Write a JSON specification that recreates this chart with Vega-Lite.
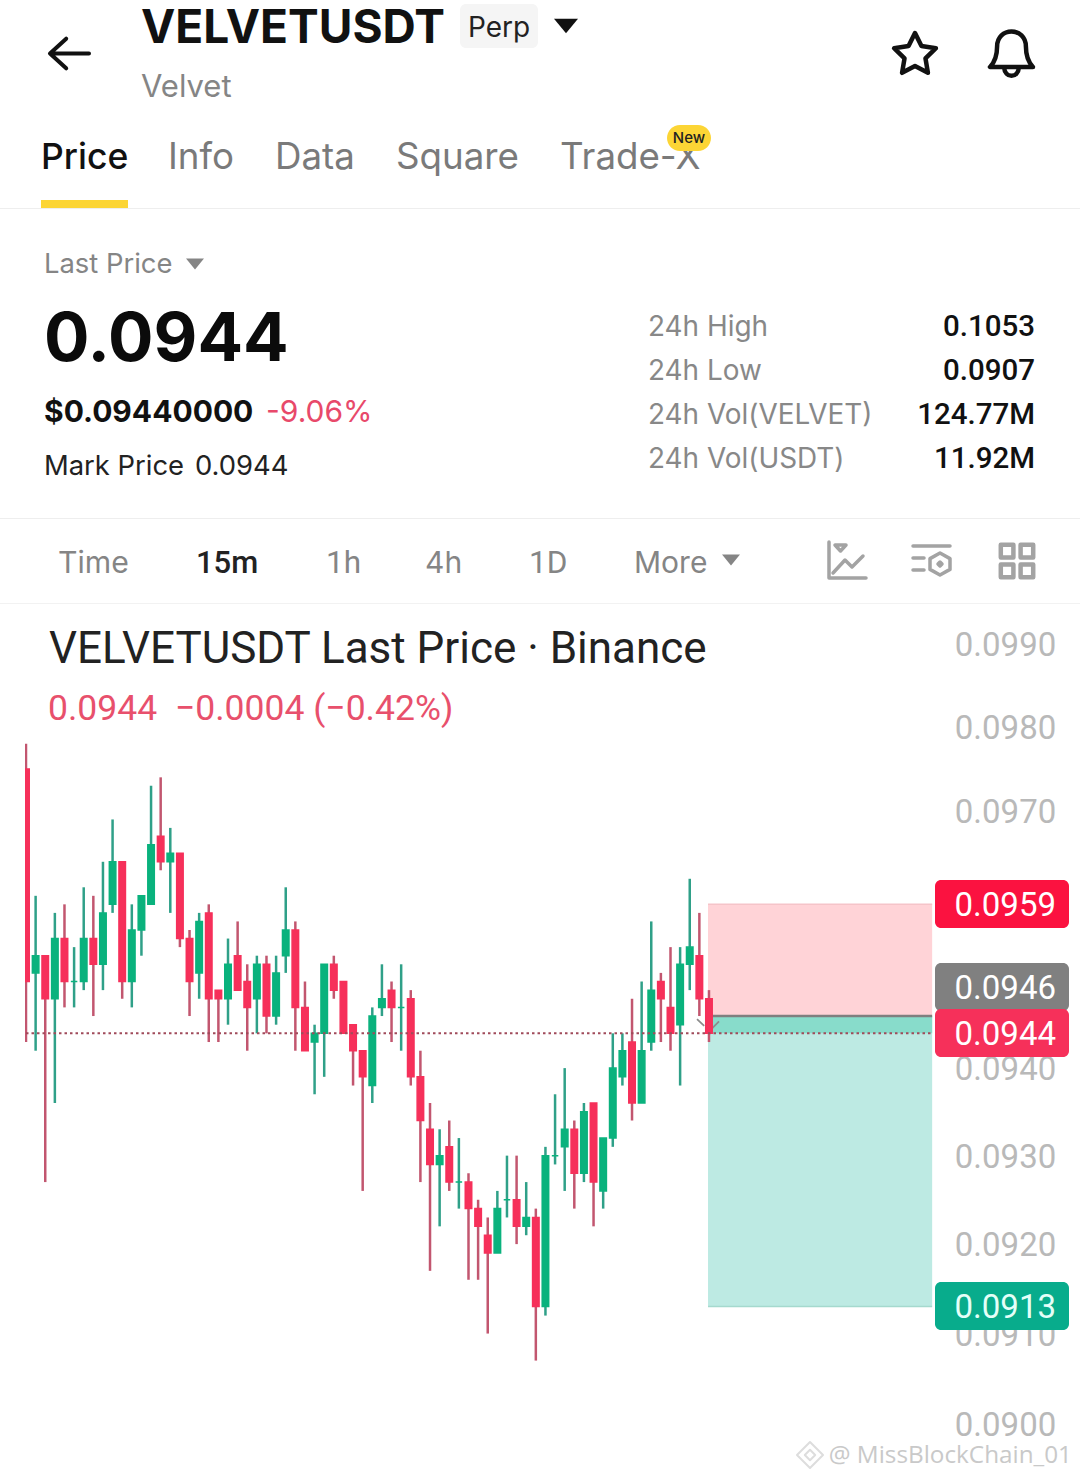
{
  "$schema": "https://vega.github.io/schema/vega-lite/v6.json",
  "width": 1080,
  "height": 1479,
  "padding": 0,
  "autosize": {"type": "fit", "contains": "padding"},
  "background": "#ffffff",
  "config": {"view": {"stroke": null}, "font": "Inter"},
  "datasets": {
    "candles": [
      {"t":0,"o":0.0975,"h":0.0978,"l":0.0943,"c":0.0950,"dir":"down"},
      {"t":1,"o":0.0951,"h":0.0960,"l":0.0942,"c":0.0953,"dir":"up"},
      {"t":2,"o":0.0953,"h":0.0953,"l":0.0927,"c":0.0948,"dir":"down"},
      {"t":3,"o":0.0948,"h":0.0958,"l":0.0936,"c":0.0955,"dir":"up"},
      {"t":4,"o":0.0955,"h":0.0959,"l":0.0947,"c":0.0950,"dir":"down"},
      {"t":5,"o":0.0950,"h":0.0954,"l":0.0947,"c":0.0950,"dir":"up"},
      {"t":6,"o":0.0950,"h":0.0961,"l":0.0949,"c":0.0955,"dir":"up"},
      {"t":7,"o":0.0955,"h":0.0960,"l":0.0946,"c":0.0952,"dir":"down"},
      {"t":8,"o":0.0952,"h":0.0964,"l":0.0949,"c":0.0958,"dir":"up"},
      {"t":9,"o":0.0959,"h":0.0969,"l":0.0958,"c":0.0964,"dir":"up"},
      {"t":10,"o":0.0964,"h":0.0964,"l":0.0948,"c":0.0950,"dir":"down"},
      {"t":11,"o":0.0950,"h":0.0959,"l":0.0947,"c":0.0956,"dir":"up"},
      {"t":12,"o":0.0956,"h":0.0960,"l":0.0953,"c":0.0960,"dir":"up"},
      {"t":13,"o":0.0959,"h":0.0973,"l":0.0959,"c":0.0966,"dir":"up"},
      {"t":14,"o":0.0967,"h":0.0974,"l":0.0963,"c":0.0964,"dir":"down"},
      {"t":15,"o":0.0964,"h":0.0968,"l":0.0958,"c":0.0965,"dir":"up"},
      {"t":16,"o":0.0965,"h":0.0965,"l":0.0954,"c":0.0955,"dir":"down"},
      {"t":17,"o":0.0955,"h":0.0956,"l":0.0946,"c":0.0950,"dir":"down"},
      {"t":18,"o":0.0951,"h":0.0958,"l":0.0948,"c":0.0957,"dir":"up"},
      {"t":19,"o":0.0958,"h":0.0959,"l":0.0943,"c":0.0948,"dir":"down"},
      {"t":20,"o":0.0949,"h":0.0949,"l":0.0943,"c":0.0948,"dir":"down"},
      {"t":21,"o":0.0948,"h":0.0955,"l":0.0945,"c":0.0952,"dir":"up"},
      {"t":22,"o":0.0953,"h":0.0957,"l":0.0949,"c":0.0949,"dir":"down"},
      {"t":23,"o":0.0950,"h":0.0952,"l":0.0942,"c":0.0947,"dir":"down"},
      {"t":24,"o":0.0948,"h":0.0953,"l":0.0944,"c":0.0952,"dir":"up"},
      {"t":25,"o":0.0952,"h":0.0953,"l":0.0944,"c":0.0946,"dir":"down"},
      {"t":26,"o":0.0946,"h":0.0953,"l":0.0945,"c":0.0951,"dir":"up"},
      {"t":27,"o":0.0953,"h":0.0961,"l":0.0951,"c":0.0956,"dir":"up"},
      {"t":28,"o":0.0956,"h":0.0957,"l":0.0942,"c":0.0947,"dir":"down"},
      {"t":29,"o":0.0947,"h":0.0950,"l":0.0942,"c":0.0942,"dir":"down"},
      {"t":30,"o":0.0943,"h":0.0945,"l":0.0937,"c":0.0944,"dir":"up"},
      {"t":31,"o":0.0944,"h":0.0952,"l":0.0939,"c":0.0952,"dir":"up"},
      {"t":32,"o":0.0952,"h":0.0953,"l":0.0948,"c":0.0949,"dir":"down"},
      {"t":33,"o":0.0950,"h":0.0950,"l":0.0944,"c":0.0944,"dir":"down"},
      {"t":34,"o":0.0945,"h":0.0945,"l":0.0938,"c":0.0942,"dir":"down"},
      {"t":35,"o":0.0942,"h":0.0942,"l":0.0926,"c":0.0939,"dir":"down"},
      {"t":36,"o":0.0938,"h":0.0947,"l":0.0936,"c":0.0946,"dir":"up"},
      {"t":37,"o":0.0947,"h":0.0952,"l":0.0946,"c":0.0948,"dir":"up"},
      {"t":38,"o":0.0949,"h":0.0950,"l":0.0943,"c":0.0947,"dir":"down"},
      {"t":39,"o":0.0947,"h":0.0952,"l":0.0942,"c":0.0947,"dir":"up"},
      {"t":40,"o":0.0948,"h":0.0949,"l":0.0938,"c":0.0939,"dir":"down"},
      {"t":41,"o":0.0939,"h":0.0942,"l":0.0927,"c":0.0934,"dir":"down"},
      {"t":42,"o":0.0933,"h":0.0936,"l":0.0917,"c":0.0929,"dir":"down"},
      {"t":43,"o":0.0929,"h":0.0933,"l":0.0922,"c":0.0930,"dir":"up"},
      {"t":44,"o":0.0931,"h":0.0934,"l":0.0926,"c":0.0927,"dir":"down"},
      {"t":45,"o":0.0927,"h":0.0932,"l":0.0924,"c":0.0927,"dir":"up"},
      {"t":46,"o":0.0927,"h":0.0928,"l":0.0916,"c":0.0924,"dir":"down"},
      {"t":47,"o":0.0924,"h":0.0925,"l":0.0916,"c":0.0922,"dir":"down"},
      {"t":48,"o":0.0921,"h":0.0923,"l":0.0910,"c":0.0919,"dir":"down"},
      {"t":49,"o":0.0919,"h":0.0926,"l":0.0919,"c":0.0924,"dir":"up"},
      {"t":50,"o":0.0925,"h":0.0930,"l":0.0923,"c":0.0925,"dir":"up"},
      {"t":51,"o":0.0925,"h":0.0930,"l":0.0920,"c":0.0922,"dir":"down"},
      {"t":52,"o":0.0922,"h":0.0927,"l":0.0921,"c":0.0923,"dir":"up"},
      {"t":53,"o":0.0923,"h":0.0924,"l":0.0907,"c":0.0913,"dir":"down"},
      {"t":54,"o":0.0913,"h":0.0931,"l":0.0912,"c":0.0930,"dir":"up"},
      {"t":55,"o":0.0930,"h":0.0937,"l":0.0929,"c":0.0930,"dir":"up"},
      {"t":56,"o":0.0931,"h":0.0940,"l":0.0926,"c":0.0933,"dir":"up"},
      {"t":57,"o":0.0933,"h":0.0934,"l":0.0924,"c":0.0928,"dir":"down"},
      {"t":58,"o":0.0928,"h":0.0936,"l":0.0927,"c":0.0935,"dir":"up"},
      {"t":59,"o":0.0936,"h":0.0936,"l":0.0922,"c":0.0927,"dir":"down"},
      {"t":60,"o":0.0926,"h":0.0932,"l":0.0924,"c":0.0932,"dir":"up"},
      {"t":61,"o":0.0932,"h":0.0944,"l":0.0931,"c":0.0940,"dir":"up"},
      {"t":62,"o":0.0939,"h":0.0944,"l":0.0938,"c":0.0942,"dir":"up"},
      {"t":63,"o":0.0943,"h":0.0948,"l":0.0934,"c":0.0936,"dir":"down"},
      {"t":64,"o":0.0936,"h":0.0950,"l":0.0936,"c":0.0942,"dir":"up"},
      {"t":65,"o":0.0943,"h":0.0957,"l":0.0942,"c":0.0949,"dir":"up"},
      {"t":66,"o":0.0950,"h":0.0951,"l":0.0943,"c":0.0948,"dir":"down"},
      {"t":67,"o":0.0947,"h":0.0954,"l":0.0942,"c":0.0944,"dir":"down"},
      {"t":68,"o":0.0945,"h":0.0954,"l":0.0938,"c":0.0952,"dir":"up"},
      {"t":69,"o":0.0952,"h":0.0962,"l":0.0949,"c":0.0954,"dir":"up"},
      {"t":70,"o":0.0953,"h":0.0958,"l":0.0946,"c":0.0948,"dir":"down"},
      {"t":71,"o":0.0948,"h":0.0949,"l":0.0943,"c":0.0944,"dir":"down"}
    ],
    "zones": [
      {"t1":70.9,"t2":94.2,"top":0.0959,"bottom":0.0946,"fill":"#ffd3d7"},
      {"t1":70.9,"t2":94.2,"top":0.0946,"bottom":0.0913,"fill":"#bdeae3"},
      {"t1":70.9,"t2":94.2,"top":0.0946,"bottom":0.0944,"fill":"#88dccb"}
    ],
    "levels": [
      {"t1":70.9,"t2":94.2,"price":0.0959,"stroke":"#f5c4c9","w":1.5},
      {"t1":70.9,"t2":94.2,"price":0.0913,"stroke":"#a5d9ce","w":1.5},
      {"t1":70.9,"t2":94.2,"price":0.0946,"stroke":"#7f7f7f","w":2.5}
    ],
    "last": [{"t1":0,"t2":94.2,"price":0.0944}],
    "marker": [{"t":70.9,"price":0.09450}],
    "ticks": [
      {"t":107.1,"price":0.0990,"txt":"0.0990"},
      {"t":107.1,"price":0.0980,"txt":"0.0980"},
      {"t":107.1,"price":0.0970,"txt":"0.0970"},
      {"t":107.1,"price":0.0940,"txt":"0.0940"},
      {"t":107.1,"price":0.0930,"txt":"0.0930"},
      {"t":107.1,"price":0.0920,"txt":"0.0920"},
      {"t":107.1,"price":0.0910,"txt":"0.0910"},
      {"t":107.1,"price":0.0900,"txt":"0.0900"}
    ],
    "blocks": [
      {"x":0,"x2":1080,"y":208,"y2":209,"fill":"#eeeeee"},
      {"x":0,"x2":1080,"y":518,"y2":519,"fill":"#eeeeee"},
      {"x":0,"x2":1080,"y":603,"y2":604,"fill":"#f2f2f2"},
      {"x":41,"x2":128,"y":200,"y2":208,"fill":"#fcd535"},
      {"x":0,"x2":25,"y":735,"y2":1060,"fill":"#ffffff"}
    ],
    "badges": [
      {"x":460,"x2":538,"y":4,"y2":48,"fill":"#f5f5f5"},
      {"x":935,"x2":1069,"y":880,"y2":928,"fill":"#fb1240"},
      {"x":935,"x2":1069,"y":963,"y2":1011,"fill":"#808080"},
      {"x":935,"x2":1069,"y":1009,"y2":1057,"fill":"#f6305a"},
      {"x":935,"x2":1069,"y":1282,"y2":1330,"fill":"#08ac8c"}
    ],
    "pill": [{"x":667,"x2":711,"y":125,"y2":151,"fill":"#fcd535"}],
    "labels": [
      {"txt":"VELVETUSDT","x":141,"y":43,"fs":46,"col":"#111111","style":"bold"},
      {"txt":"Perp","x":468,"y":37,"fs":28,"col":"#222222","style":"regular"},
      {"txt":"Velvet","x":141,"y":97,"fs":31,"col":"#858585","style":"regular"},
      {"txt":"Price","x":41,"y":169,"fs":35.5,"col":"#111111","style":"medium"},
      {"txt":"Info","x":168,"y":169,"fs":36.7,"col":"#7a7a7a","style":"regular"},
      {"txt":"Data","x":275,"y":169,"fs":36.7,"col":"#7a7a7a","style":"regular"},
      {"txt":"Square","x":396,"y":169,"fs":36.7,"col":"#7a7a7a","style":"regular"},
      {"txt":"Trade-X","x":560,"y":169,"fs":36.7,"col":"#7a7a7a","style":"regular"},
      {"txt":"Last Price","x":44,"y":273,"fs":27.4,"col":"#858585","style":"regular"},
      {"txt":"0.0944","x":44,"y":361,"fs":67.5,"col":"#0b0b0b","style":"bold"},
      {"txt":"$0.09440000","x":44,"y":422,"fs":30,"col":"#111111","style":"bold"},
      {"txt":"-9.06%","x":266,"y":422,"fs":30,"col":"#e8496a","style":"regular"},
      {"txt":"Mark Price","x":44,"y":475,"fs":27.4,"col":"#222222","style":"regular"},
      {"txt":"0.0944","x":195,"y":475,"fs":27.4,"col":"#222222","style":"regular"},
      {"txt":"24h High","x":648,"y":336,"fs":27.9,"col":"#888888","style":"regular"},
      {"txt":"24h Low","x":648,"y":380,"fs":27.9,"col":"#888888","style":"regular"},
      {"txt":"24h Vol(VELVET)","x":648,"y":424,"fs":27.9,"col":"#888888","style":"regular"},
      {"txt":"24h Vol(USDT)","x":648,"y":468,"fs":27.9,"col":"#888888","style":"regular"},
      {"txt":"0.1053","x":1035,"y":336,"fs":29.5,"col":"#111111","style":"rightmedium"},
      {"txt":"0.0907","x":1035,"y":380,"fs":29.5,"col":"#111111","style":"rightmedium"},
      {"txt":"124.77M","x":1035,"y":424,"fs":29.5,"col":"#111111","style":"rightmedium"},
      {"txt":"11.92M","x":1035,"y":468,"fs":29.5,"col":"#111111","style":"rightmedium"},
      {"txt":"Time","x":58,"y":573,"fs":30.2,"col":"#858585","style":"regular"},
      {"txt":"15m","x":196,"y":573,"fs":31,"col":"#222222","style":"chartmedium"},
      {"txt":"1h","x":326,"y":573,"fs":31.5,"col":"#858585","style":"chart"},
      {"txt":"4h","x":425,"y":573,"fs":30,"col":"#858585","style":"regular"},
      {"txt":"1D","x":529,"y":573,"fs":31.5,"col":"#858585","style":"chart"},
      {"txt":"More","x":634,"y":573,"fs":30,"col":"#858585","style":"regular"},
      {"txt":"VELVETUSDT Last Price · Binance","x":49,"y":663,"fs":44,"col":"#222222","style":"chart"},
      {"txt":"0.0944","x":48,"y":720,"fs":35.5,"col":"#e8506c","style":"chart"},
      {"txt":"−0.0004 (−0.42%)","x":175,"y":720,"fs":35.5,"col":"#e8506c","style":"chart"},
      {"txt":"0.0959","x":1056,"y":916,"fs":33,"col":"#ffffff","style":"right"},
      {"txt":"0.0946","x":1056,"y":999,"fs":33,"col":"#ffffff","style":"right"},
      {"txt":"0.0944","x":1056,"y":1045,"fs":33,"col":"#ffffff","style":"right"},
      {"txt":"0.0913","x":1056,"y":1318,"fs":33,"col":"#e4fff8","style":"right"}
    ],
    "icons": [
      {"name":"back","x":69.5,"y":53.5,"area":1521,"sw":4,"col":"#111111","path":"M1,0 L-1,0 M-0.17,-0.76 L-1,0 L-0.17,0.76"},
      {"name":"star","x":915,"y":55,"area":1936,"sw":4.5,"col":"#111111","path":"M0,-1 L0.294,-0.405 L0.951,-0.309 L0.476,0.155 L0.588,0.809 L0,0.5 L-0.588,0.809 L-0.476,0.155 L-0.951,-0.309 L-0.294,-0.405 Z"},
      {"name":"bell","x":1011.5,"y":53,"area":1849,"sw":4.5,"col":"#111111","path":"M-1,0.65 L1,0.65 C0.8,0.45 0.67,0.2 0.67,-0.3 C0.67,-0.75 0.35,-1 0,-1 C-0.35,-1 -0.67,-0.75 -0.67,-0.3 C-0.67,0.2 -0.8,0.45 -1,0.65 Z M-0.35,0.65 C-0.3,1.2 0.3,1.2 0.35,0.65"},
      {"name":"indicators","x":847,"y":560,"area":1600,"sw":3.5,"col":"#a3a3a3","path":"M-0.9,-0.9 L-0.9,0.9 L0.95,0.9 M-0.6,-0.75 L-0.05,-0.75 L-0.325,-0.45 Z M-0.7,0.65 L-0.1,0 L0.25,0.35 L0.8,-0.2"},
      {"name":"settings","x":932,"y":560,"area":1600,"sw":3.5,"col":"#a3a3a3","path":"M-0.95,-0.7 L0.9,-0.7 M-0.95,-0.1 L-0.4,-0.1 M-0.95,0.5 L-0.4,0.5 M0.4,-0.35 L0.9,-0.07 L0.9,0.47 L0.4,0.75 L-0.1,0.47 L-0.1,-0.07 Z M0.4,0.1 L0.5,0.2 L0.4,0.3 L0.3,0.2 Z"},
      {"name":"grid","x":1017,"y":561,"area":1296,"sw":4.5,"col":"#a3a3a3","path":"M-0.9,-0.9 L-0.2,-0.9 L-0.2,-0.2 L-0.9,-0.2 Z M0.2,-0.9 L0.9,-0.9 L0.9,-0.2 L0.2,-0.2 Z M-0.9,0.2 L-0.2,0.2 L-0.2,0.9 L-0.9,0.9 Z M0.2,0.2 L0.9,0.2 L0.9,0.9 L0.2,0.9 Z"},
      {"name":"watermark","x":810,"y":1455,"area":676,"sw":2,"col":"#dddddd","path":"M0,-1 L1,0 L0,1 L-1,0 Z M0,-0.4 L0.4,0 L0,0.4 L-0.4,0 Z"}
    ],
    "carets": [
      {"x":566,"y":26,"area":576,"col":"#111111","path":"M-1,-0.6 L1,-0.6 L0,0.6 Z"},
      {"x":195,"y":264,"area":324,"col":"#858585","path":"M-1,-0.6 L1,-0.6 L0,0.6 Z"},
      {"x":731,"y":560,"area":324,"col":"#858585","path":"M-1,-0.6 L1,-0.6 L0,0.6 Z"}
    ]
  },
  "layer": [
    {
      "encoding": {
        "x": {"field": "t", "type": "quantitative", "scale": {"domain": [-2.703, 109.57], "nice": false, "zero": false, "padding": 0}, "axis": null}
      },
      "layer": [
        {
          "data": {"name": "ticks"},
          "mark": {"type": "text", "align": "right", "baseline": "middle", "dy": 2, "font": "Roboto", "fontSize": 33, "color": "#b9b9b9"},
          "encoding": {
            "y": {"field": "price", "type": "quantitative", "scale": {"type": "log", "domain": [0.089397, 0.107105], "nice": false, "padding": 0}, "axis": null},
            "text": {"field": "txt"}
          }
        },
        {
          "data": {"name": "zones"},
          "mark": {"type": "rect"},
          "encoding": {
            "x": {"field": "t1", "type": "quantitative", "scale": {"domain": [-2.703, 109.57], "nice": false, "zero": false, "padding": 0}, "axis": null},
            "x2": {"field": "t2"},
            "y": {"field": "top", "type": "quantitative", "scale": {"type": "log", "domain": [0.089397, 0.107105], "nice": false, "padding": 0}, "axis": null},
            "y2": {"field": "bottom"},
            "color": {"field": "fill", "type": "nominal", "scale": null, "legend": null}
          }
        },
        {
          "data": {"name": "levels"},
          "mark": {"type": "rule"},
          "encoding": {
            "x": {"field": "t1", "type": "quantitative", "scale": {"domain": [-2.703, 109.57], "nice": false, "zero": false, "padding": 0}, "axis": null},
            "x2": {"field": "t2"},
            "y": {"field": "price", "type": "quantitative", "scale": {"type": "log", "domain": [0.089397, 0.107105], "nice": false, "padding": 0}, "axis": null},
            "color": {"field": "stroke", "type": "nominal", "scale": null, "legend": null},
            "strokeWidth": {"field": "w", "type": "quantitative", "scale": null, "legend": null}
          }
        },
        {
          "data": {"name": "marker"},
          "mark": {"type": "point", "shape": "M-1,-0.5 L-0.35,0.1 M1,-0.3 L0.35,0.35", "size": 484, "stroke": "#8c8c8c", "strokeWidth": 1.8, "fill": null, "opacity": 1},
          "encoding": {
            "y": {"field": "price", "type": "quantitative", "scale": {"type": "log", "domain": [0.089397, 0.107105], "nice": false, "padding": 0}, "axis": null}
          }
        },
        {
          "data": {"name": "candles"},
          "mark": {"type": "rule", "strokeWidth": 2.5},
          "encoding": {
            "y": {"field": "l", "type": "quantitative", "scale": {"type": "log", "domain": [0.089397, 0.107105], "nice": false, "padding": 0}, "axis": null},
            "y2": {"field": "h"},
            "color": {"field": "dir", "type": "nominal", "scale": {"domain": ["down", "up"], "range": ["#c2566f", "#2fa088"]}, "legend": null}
          }
        },
        {
          "data": {"name": "candles"},
          "mark": {"type": "bar", "size": 6.5, "strokeWidth": 1.5},
          "encoding": {
            "y": {"field": "o", "type": "quantitative", "scale": {"type": "log", "domain": [0.089397, 0.107105], "nice": false, "padding": 0}, "axis": null},
            "y2": {"field": "c"},
            "fill": {"field": "dir", "type": "nominal", "scale": {"domain": ["down", "up"], "range": ["#f6305a", "#0ab27d"]}, "legend": null},
            "stroke": {"field": "dir", "type": "nominal", "scale": {"domain": ["down", "up"], "range": ["#f6305a", "#0ab27d"]}, "legend": null}
          }
        },
        {
          "data": {"name": "last"},
          "mark": {"type": "rule", "strokeWidth": 2, "strokeDash": [2.5, 3], "color": "#a04a5a"},
          "encoding": {
            "x": {"field": "t1", "type": "quantitative", "scale": {"domain": [-2.703, 109.57], "nice": false, "zero": false, "padding": 0}, "axis": null},
            "x2": {"field": "t2"},
            "y": {"field": "price", "type": "quantitative", "scale": {"type": "log", "domain": [0.089397, 0.107105], "nice": false, "padding": 0}, "axis": null}
          }
        }
      ]
    },
    {
      "encoding": {
        "x": {"field": "x", "type": "quantitative", "scale": {"domain": [0, 1080], "nice": false, "zero": false}, "axis": null},
        "y": {"field": "y", "type": "quantitative", "scale": {"domain": [1479, 0], "nice": false, "zero": false}, "axis": null}
      },
      "layer": [
        {
          "data": {"name": "blocks"},
          "mark": {"type": "rect"},
          "encoding": {
            "x2": {"field": "x2"},
            "y2": {"field": "y2"},
            "color": {"field": "fill", "type": "nominal", "scale": null, "legend": null}
          }
        },
        {
          "data": {"name": "badges"},
          "mark": {"type": "rect", "cornerRadius": 6},
          "encoding": {
            "x2": {"field": "x2"},
            "y2": {"field": "y2"},
            "color": {"field": "fill", "type": "nominal", "scale": null, "legend": null}
          }
        },
        {
          "data": {"name": "labels"},
          "transform": [{"filter": "datum.style == 'regular'"}],
          "mark": {"type": "text", "align": "left", "baseline": "alphabetic", "fontWeight": 400},
          "encoding": {
            "text": {"field": "txt"},
            "size": {"field": "fs", "type": "quantitative", "scale": null, "legend": null},
            "color": {"field": "col", "type": "nominal", "scale": null, "legend": null}
          }
        },
        {
          "data": {"name": "labels"},
          "transform": [{"filter": "datum.style == 'chart'"}],
          "mark": {"type": "text", "align": "left", "baseline": "alphabetic", "fontWeight": 400, "font": "Roboto"},
          "encoding": {
            "text": {"field": "txt"},
            "size": {"field": "fs", "type": "quantitative", "scale": null, "legend": null},
            "color": {"field": "col", "type": "nominal", "scale": null, "legend": null}
          }
        },
        {
          "data": {"name": "labels"},
          "transform": [{"filter": "datum.style == 'chartmedium'"}],
          "mark": {"type": "text", "align": "left", "baseline": "alphabetic", "fontWeight": 500, "font": "Roboto"},
          "encoding": {
            "text": {"field": "txt"},
            "size": {"field": "fs", "type": "quantitative", "scale": null, "legend": null},
            "color": {"field": "col", "type": "nominal", "scale": null, "legend": null}
          }
        },
        {
          "data": {"name": "labels"},
          "transform": [{"filter": "datum.style == 'medium'"}],
          "mark": {"type": "text", "align": "left", "baseline": "alphabetic", "fontWeight": 500},
          "encoding": {
            "text": {"field": "txt"},
            "size": {"field": "fs", "type": "quantitative", "scale": null, "legend": null},
            "color": {"field": "col", "type": "nominal", "scale": null, "legend": null}
          }
        },
        {
          "data": {"name": "labels"},
          "transform": [{"filter": "datum.style == 'bold'"}],
          "mark": {"type": "text", "align": "left", "baseline": "alphabetic", "fontWeight": 700},
          "encoding": {
            "text": {"field": "txt"},
            "size": {"field": "fs", "type": "quantitative", "scale": null, "legend": null},
            "color": {"field": "col", "type": "nominal", "scale": null, "legend": null}
          }
        },
        {
          "data": {"name": "labels"},
          "transform": [{"filter": "datum.style == 'rightmedium'"}],
          "mark": {"type": "text", "align": "right", "baseline": "alphabetic", "fontWeight": 500, "font": "Roboto"},
          "encoding": {
            "text": {"field": "txt"},
            "size": {"field": "fs", "type": "quantitative", "scale": null, "legend": null},
            "color": {"field": "col", "type": "nominal", "scale": null, "legend": null}
          }
        },
        {
          "data": {"name": "labels"},
          "transform": [{"filter": "datum.style == 'right'"}],
          "mark": {"type": "text", "align": "right", "baseline": "alphabetic", "fontWeight": 400, "font": "Roboto"},
          "encoding": {
            "text": {"field": "txt"},
            "size": {"field": "fs", "type": "quantitative", "scale": null, "legend": null},
            "color": {"field": "col", "type": "nominal", "scale": null, "legend": null}
          }
        },
        {
          "data": {"values": [{"txt": "@ MissBlockChain_01", "x": 1072, "y": 1463}]},
          "mark": {"type": "text", "align": "right", "baseline": "alphabetic", "font": "Open Sans", "fontSize": 24.3, "color": "#c9c9c9"},
          "encoding": {"text": {"field": "txt"}}
        },
        {
          "data": {"name": "pill"},
          "mark": {"type": "rect", "cornerRadius": 13},
          "encoding": {
            "x2": {"field": "x2"},
            "y2": {"field": "y2"},
            "color": {"field": "fill", "type": "nominal", "scale": null, "legend": null}
          }
        },
        {
          "data": {"values": [{"txt": "New", "x": 689, "y": 143}]},
          "mark": {"type": "text", "align": "center", "baseline": "alphabetic", "fontWeight": 500, "fontSize": 15, "color": "#222222"},
          "encoding": {"text": {"field": "txt"}}
        },
        {
          "data": {"name": "icons"},
          "mark": {"type": "point", "fill": null, "opacity": 1, "strokeCap": "round", "strokeJoin": "round"},
          "encoding": {
            "shape": {"field": "path", "type": "nominal", "scale": null, "legend": null},
            "size": {"field": "area", "type": "quantitative", "scale": null, "legend": null},
            "stroke": {"field": "col", "type": "nominal", "scale": null, "legend": null},
            "strokeWidth": {"field": "sw", "type": "quantitative", "scale": null, "legend": null}
          }
        },
        {
          "data": {"name": "carets"},
          "mark": {"type": "point", "filled": true, "opacity": 1},
          "encoding": {
            "shape": {"field": "path", "type": "nominal", "scale": null, "legend": null},
            "size": {"field": "area", "type": "quantitative", "scale": null, "legend": null},
            "color": {"field": "col", "type": "nominal", "scale": null, "legend": null}
          }
        }
      ]
    }
  ],
  "resolve": {"scale": {"x": "independent", "y": "independent"}}
}
